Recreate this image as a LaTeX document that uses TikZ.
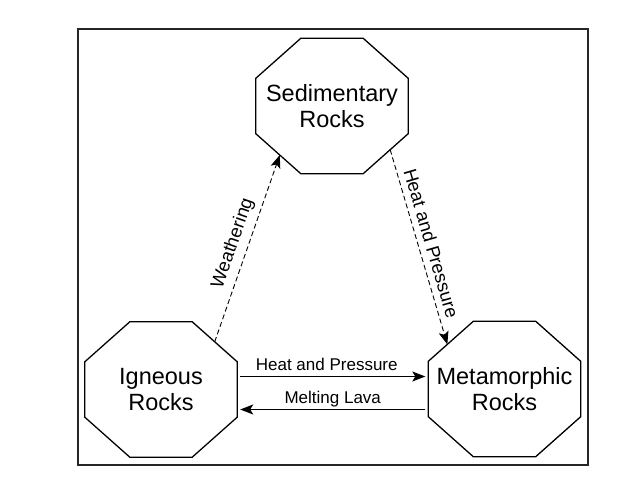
\documentclass[tikz,border=0pt]{standalone}
\usepackage{fontspec}
\setmainfont{Liberation Sans}
\usetikzlibrary{arrows.meta,calc}
\newcommand\rockoct[1]{%
  \draw[octline] ($(#1.north west)+(45pt,0pt)$) -- ($(#1.north east)+(-45pt,0pt)$)
    -- ($(#1.north east)+(0pt,-40pt)$) -- ($(#1.south east)+(0pt,40pt)$)
    -- ($(#1.south east)+(-45pt,0pt)$) -- ($(#1.south west)+(45pt,0pt)$)
    -- ($(#1.south west)+(0pt,40pt)$) -- ($(#1.north west)+(0pt,-40pt)$) -- cycle;}
\begin{document}
\begin{tikzpicture}[x=1pt,y=-1pt,
  rock/.style={rectangle, minimum width=152pt, minimum height=135pt, inner sep=0pt,
    align=center, font=\fontsize{23.5}{25.5}\selectfont},
  octline/.style={line width=1.3pt, line join=miter},
  flow/.style={line width=0.9pt, -{Stealth[length=13pt,width=10pt,inset=3pt]}},
  dflow/.style={flow, dash pattern=on 5pt off 3pt},
  lbl/.style={font=\fontsize{17}{20}\selectfont, inner sep=2pt},
  dlbl/.style={font=\fontsize{18.5}{20}\selectfont, inner sep=3pt},
]
\useasboundingbox (0,0) rectangle (638,478);
\draw[line width=1.6pt, black!85] (78,29) rectangle (588,465);

\node[rock] (sed) at (332,106) {Sedimentary\\Rocks};
\node[rock] (ign) at (161,389.5) {Igneous\\Rocks};
\node[rock] (met) at (504.5,389) {Metamorphic\\Rocks};
\rockoct{sed}
\rockoct{ign}
\rockoct{met}

\coordinate (ign-ne) at ($(ign.north east)+(-22.5pt,-20pt)$);
\coordinate (sed-sw) at ($(sed.south west)+(24pt,18.7pt)$);
\coordinate (sed-se) at ($(sed.south east)+(-18pt,24pt)$);
\coordinate (met-nw) at ($(met.north west)+(19pt,-23.1pt)$);

\draw[dflow] (ign-ne) -- node[dlbl, sloped, above=3pt] {Weathering} (sed-sw);
\draw[dflow] (sed-se) -- node[dlbl, sloped, above=3pt] {Heat and Pressure} (met-nw);

\draw[flow, shorten <=3pt, shorten >=3pt] ([yshift=13pt]ign.east) --
  node[lbl, above=3pt, xshift=-6pt] {Heat and Pressure} ([yshift=13pt]ign.east -| met.west);
\draw[flow, line width=1.5pt, shorten <=3pt, shorten >=3pt] ([yshift=-20.5pt]met.west) --
  node[lbl, above=0pt] {Melting Lava} ([yshift=-20.5pt]met.west -| ign.east);
\end{tikzpicture}
\end{document}
